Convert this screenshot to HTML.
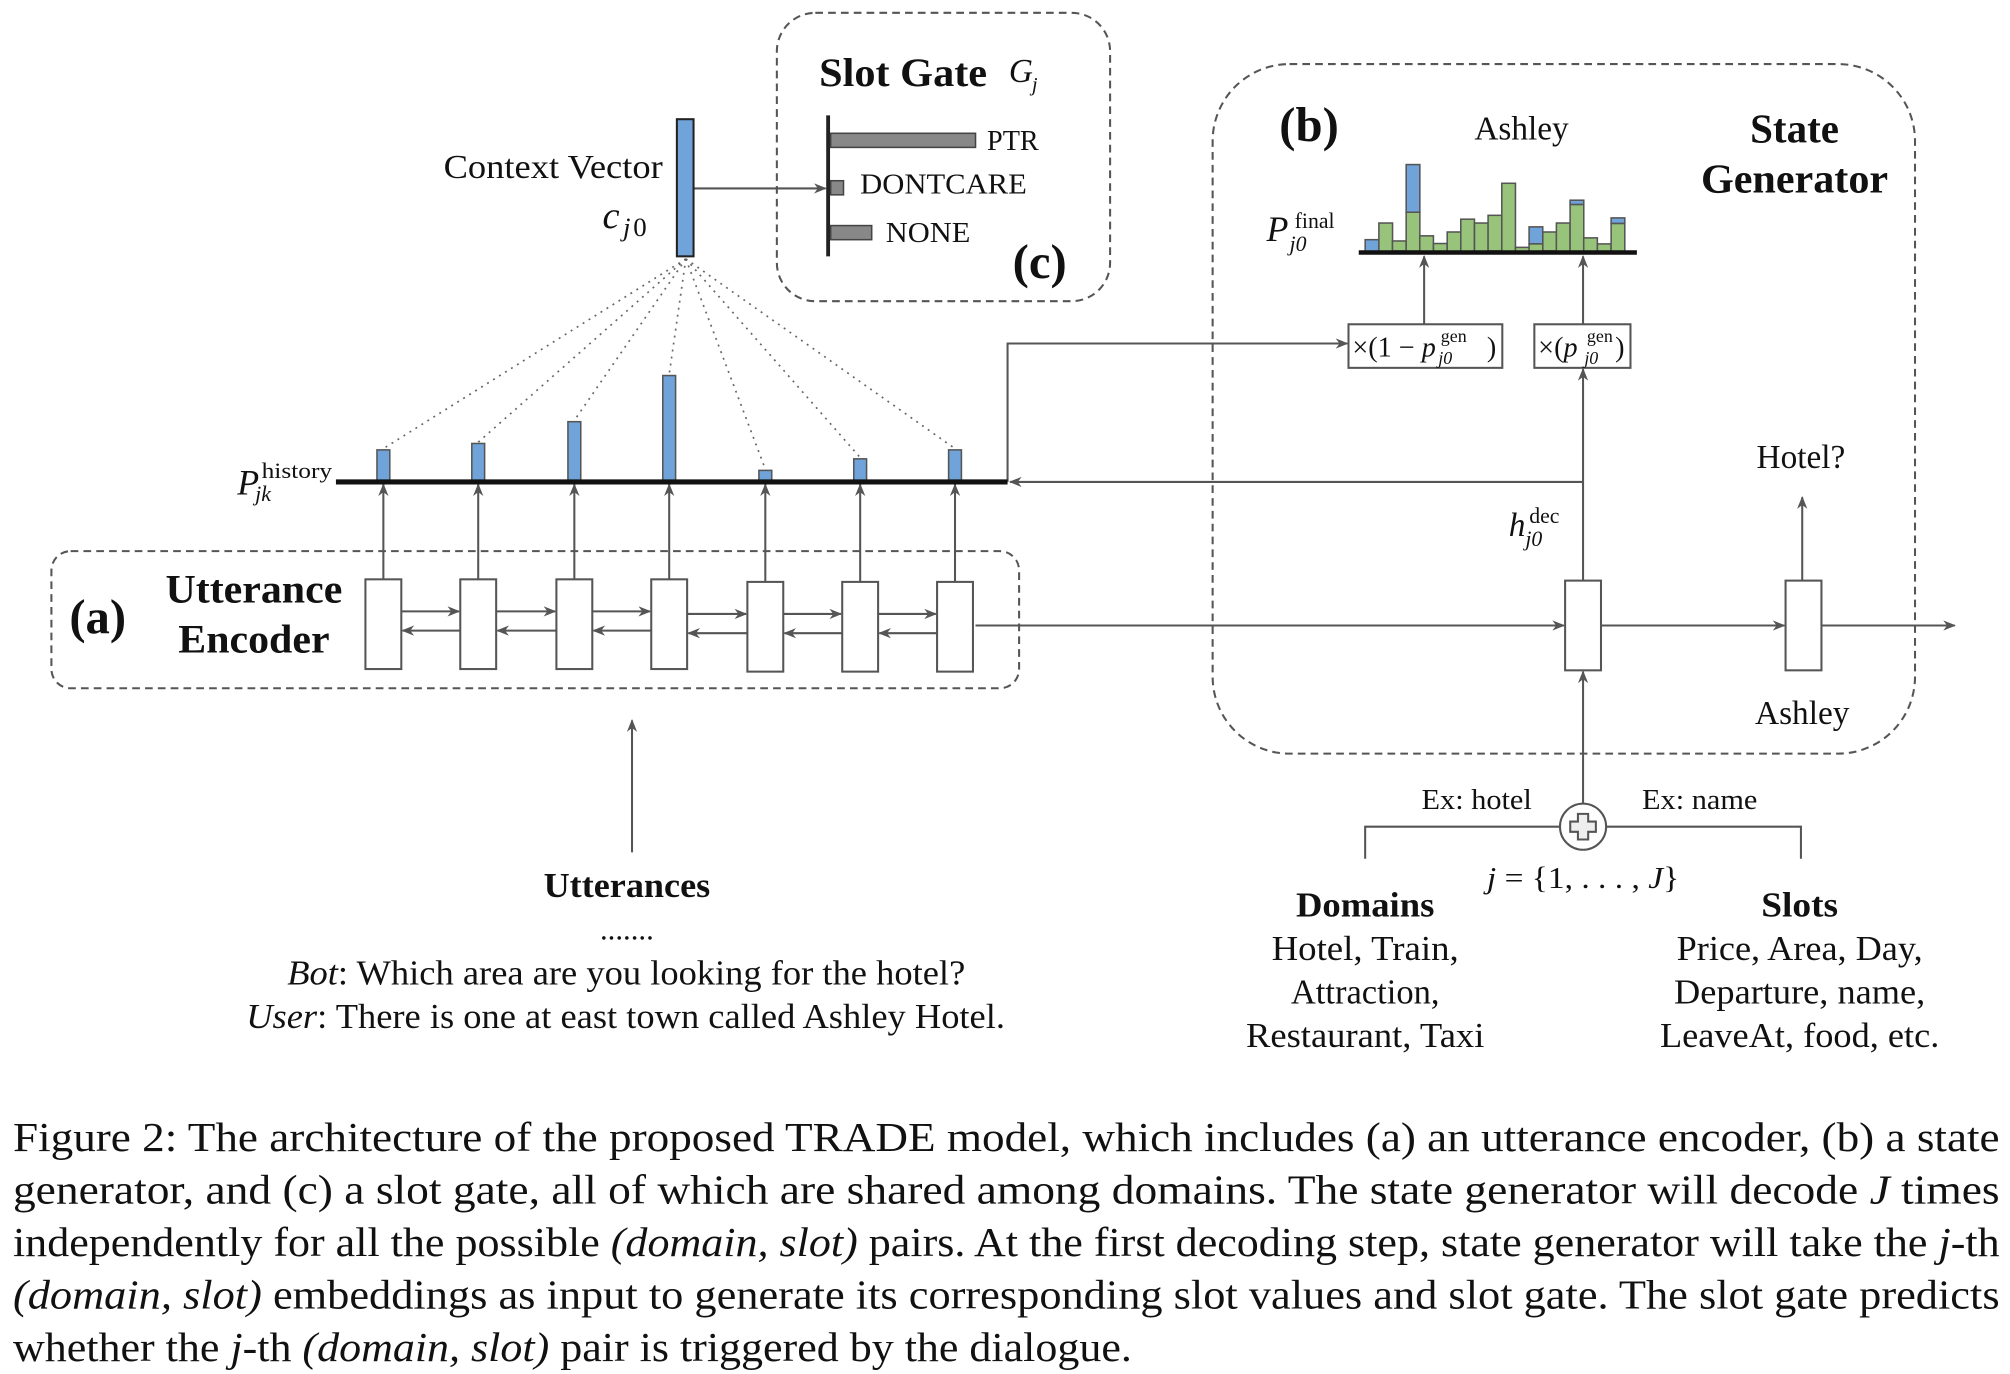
<!DOCTYPE html>
<html><head><meta charset="utf-8"><style>
html,body{margin:0;padding:0;background:#fff;}
svg{display:block;}
text{font-family:"Liberation Serif",serif;fill:#111;}
</style></head><body>
<svg width="2010" height="1374" viewBox="0 0 1568 1072" xmlns="http://www.w3.org/2000/svg">
<defs>
<marker id="ah" markerWidth="10" markerHeight="8" refX="9" refY="4" orient="auto" markerUnits="userSpaceOnUse">
<path d="M0,0 L10,4 L0,8 L3,4 z" fill="#555"/>
</marker>
</defs>
<g fill="none" stroke="#555" stroke-width="1.6" stroke-dasharray="6,4">
<rect x="40" y="430" width="755" height="107" rx="15"/>
<rect x="606" y="10" width="260" height="225" rx="30"/>
<rect x="946" y="50" width="548" height="538" rx="60"/>
</g>

<g fill="#fff" stroke="#555" stroke-width="1.6">
<rect x="285" y="452" width="28" height="70"/>
<rect x="359" y="452" width="28" height="70"/>
<rect x="434" y="452" width="28" height="70"/>
<rect x="508" y="452" width="28" height="70"/>
<rect x="583" y="454" width="28" height="70"/>
<rect x="657" y="454" width="28" height="70"/>
<rect x="731" y="454" width="28" height="70"/>
<rect x="1221" y="453" width="28" height="70"/>
<rect x="1393" y="453" width="28" height="70"/>
</g>
<g stroke="#555" stroke-width="1.6" marker-end="url(#ah)">
<line x1="313" y1="477" x2="358" y2="477"/>
<line x1="387" y1="477" x2="433" y2="477"/>
<line x1="462" y1="477" x2="507" y2="477"/>
<line x1="536" y1="479" x2="582" y2="479"/>
<line x1="611" y1="479" x2="656" y2="479"/>
<line x1="685" y1="479" x2="730" y2="479"/>
<line x1="359" y1="492" x2="314" y2="492"/>
<line x1="434" y1="492" x2="388" y2="492"/>
<line x1="508" y1="492" x2="463" y2="492"/>
<line x1="583" y1="494" x2="537" y2="494"/>
<line x1="657" y1="494" x2="612" y2="494"/>
<line x1="731" y1="494" x2="686" y2="494"/>
<line x1="299" y1="452" x2="299" y2="378"/>
<line x1="373" y1="452" x2="373" y2="378"/>
<line x1="448" y1="452" x2="448" y2="378"/>
<line x1="522" y1="452" x2="522" y2="378"/>
<line x1="597" y1="454" x2="597" y2="378"/>
<line x1="671" y1="454" x2="671" y2="378"/>
<line x1="745" y1="454" x2="745" y2="378"/>
<line x1="493" y1="665" x2="493" y2="562"/>
<line x1="541" y1="147" x2="644" y2="147"/>
<line x1="761" y1="488" x2="1220" y2="488"/>
<line x1="1249" y1="488" x2="1392" y2="488"/>
<line x1="1421" y1="488" x2="1525" y2="488"/>
<line x1="1406" y1="453" x2="1406" y2="388"/>
<line x1="1235" y1="627" x2="1235" y2="524"/>
<line x1="1235" y1="453" x2="1235" y2="288"/>
<line x1="1111" y1="253" x2="1111" y2="200"/>
<line x1="1235" y1="253" x2="1235" y2="200"/>
<polyline points="786,376 786,268 1051,268" fill="none"/>
<line x1="1235" y1="376" x2="788" y2="376"/>
</g>

<g stroke="#666" stroke-width="1.3" stroke-dasharray="1.5,4">
<line x1="535" y1="202" x2="299" y2="350"/>
<line x1="535" y1="202" x2="373" y2="345"/>
<line x1="535" y1="202" x2="448" y2="328"/>
<line x1="535" y1="202" x2="522" y2="292"/>
<line x1="535" y1="202" x2="597" y2="366"/>
<line x1="535" y1="202" x2="671" y2="357"/>
<line x1="535" y1="202" x2="745" y2="350"/>
</g>

<g fill="#6fa3d9" stroke="#555" stroke-width="1.2">
<rect x="294" y="351" width="10" height="24"/>
<rect x="368" y="346" width="10" height="29"/>
<rect x="443" y="329" width="10" height="46"/>
<rect x="517" y="293" width="10" height="82"/>
<rect x="592" y="367" width="10" height="8"/>
<rect x="666" y="358" width="10" height="17"/>
<rect x="740" y="351" width="10" height="24"/>
</g>
<line x1="262" y1="376" x2="786" y2="376" stroke="#111" stroke-width="4"/>

<rect x="528" y="93" width="13" height="107" fill="#6fa3d9" stroke="#222" stroke-width="1.6"/>

<line x1="646" y1="90" x2="646" y2="200" stroke="#222" stroke-width="3"/>
<g fill="#888" stroke="#444" stroke-width="1.2">
<rect x="648" y="104" width="113" height="11"/>
<rect x="648" y="141" width="10" height="11"/>
<rect x="648" y="176" width="32" height="11"/>
</g>

<g stroke="#555" stroke-width="1.2">
<rect x="1065.0" y="187" width="10.66" height="9.1" fill="#6fa3d9"/>
<rect x="1075.7" y="174" width="10.66" height="22.1" fill="#97c47a"/>
<rect x="1086.3" y="188" width="10.66" height="7.8" fill="#97c47a"/>
<rect x="1097.0" y="128.4" width="10.66" height="37.2" fill="#6fa3d9"/>
<rect x="1097.0" y="165.6" width="10.66" height="30.4" fill="#97c47a"/>
<rect x="1107.6" y="184" width="10.66" height="12.2" fill="#97c47a"/>
<rect x="1118.3" y="190" width="10.66" height="6" fill="#97c47a"/>
<rect x="1129.0" y="181" width="10.66" height="15.1" fill="#97c47a"/>
<rect x="1139.6" y="171" width="10.66" height="25.2" fill="#97c47a"/>
<rect x="1150.3" y="174" width="10.66" height="22.1" fill="#97c47a"/>
<rect x="1160.9" y="168" width="10.66" height="27.8" fill="#97c47a"/>
<rect x="1171.6" y="143" width="10.66" height="53.3" fill="#97c47a"/>
<rect x="1182.3" y="193" width="10.66" height="3.1" fill="#97c47a"/>
<rect x="1192.9" y="177" width="10.66" height="13.3" fill="#6fa3d9"/>
<rect x="1192.9" y="190.3" width="10.66" height="5.7" fill="#97c47a"/>
<rect x="1203.6" y="181" width="10.66" height="14.8" fill="#97c47a"/>
<rect x="1214.2" y="174" width="10.66" height="22.1" fill="#97c47a"/>
<rect x="1224.9" y="156.2" width="10.66" height="3.4" fill="#6fa3d9"/>
<rect x="1224.9" y="159.6" width="10.66" height="36.4" fill="#97c47a"/>
<rect x="1235.5" y="185.6" width="10.66" height="10.4" fill="#97c47a"/>
<rect x="1246.2" y="190.3" width="10.66" height="5.7" fill="#97c47a"/>
<rect x="1256.9" y="170" width="10.66" height="4.4" fill="#6fa3d9"/>
<rect x="1256.9" y="174.4" width="10.66" height="21.6" fill="#97c47a"/>
</g>
<line x1="1060" y1="197" x2="1277" y2="197" stroke="#111" stroke-width="3.5"/>

<g fill="#fff" stroke="#555" stroke-width="1.6">
<rect x="1052" y="253" width="120" height="34"/>
<rect x="1197" y="253" width="75" height="34"/>
</g>
<text x="1055" y="278" font-size="22">×(1 − <tspan font-style="italic">p</tspan></text>
<text x="1124" y="267" font-size="14">gen</text>
<text x="1122" y="284" font-size="14" font-style="italic">j0</text>
<text x="1160" y="278" font-size="22">)</text>
<text x="1200" y="278" font-size="22">×(<tspan font-style="italic">p</tspan></text>
<text x="1238" y="267" font-size="14">gen</text>
<text x="1236" y="284" font-size="14" font-style="italic">j0</text>
<text x="1260" y="278" font-size="22">)</text>

<g stroke="#555" stroke-width="1.6" fill="none">
<polyline points="1065,670 1065,645 1217,645"/>
<polyline points="1405,670 1405,645 1253,645"/>
<circle cx="1235" cy="645" r="18" fill="#fff"/>
<path d="M1231,635 h8 v6 h6 v8 h-6 v6 h-8 v-6 h-6 v-8 h6 z" fill="#eee"/>
</g>

<text x="346" y="139" font-size="26" textLength="171" lengthAdjust="spacingAndGlyphs">Context Vector</text>
<text x="470" y="178" font-size="30" font-style="italic">c</text><text x="486" y="184" font-size="21" font-style="italic">j</text><text x="494" y="184" font-size="21">0</text>
<text x="639" y="67" font-size="31" font-weight="bold" textLength="131" lengthAdjust="spacingAndGlyphs">Slot Gate</text>
<text x="787" y="64" font-size="26" font-style="italic">G</text><text x="805" y="71" font-size="16" font-style="italic">j</text>
<text x="770" y="117" font-size="22">PTR</text>
<text x="671" y="151" font-size="22" textLength="130" lengthAdjust="spacingAndGlyphs">DONTCARE</text>
<text x="691" y="189" font-size="22" textLength="66" lengthAdjust="spacingAndGlyphs">NONE</text>
<text x="790" y="217" font-size="38" font-weight="bold">(c)</text>
<text x="998" y="110" font-size="38" font-weight="bold">(b)</text>
<text x="1187" y="109" font-size="26" text-anchor="middle">Ashley</text>
<text x="1400" y="111" font-size="32" font-weight="bold" text-anchor="middle">State</text>
<text x="1400" y="150" font-size="32" font-weight="bold" text-anchor="middle" textLength="146" lengthAdjust="spacingAndGlyphs">Generator</text>
<text x="988" y="188" font-size="28" font-style="italic">P</text>
<text x="1010" y="178" font-size="17">final</text>
<text x="1006" y="196" font-size="17" font-style="italic">j0</text>
<text x="185" y="386" font-size="28" font-style="italic">P</text>
<text x="204" y="373" font-size="17" textLength="55" lengthAdjust="spacingAndGlyphs">history</text>
<text x="199" y="391" font-size="17" font-style="italic">jk</text>
<text x="54" y="494" font-size="38" font-weight="bold">(a)</text>
<text x="198" y="470" font-size="31" font-weight="bold" text-anchor="middle" textLength="138" lengthAdjust="spacingAndGlyphs">Utterance</text>
<text x="198" y="509" font-size="31" font-weight="bold" text-anchor="middle" textLength="118" lengthAdjust="spacingAndGlyphs">Encoder</text>
<text x="1405" y="365" font-size="26" text-anchor="middle">Hotel?</text>
<text x="1406" y="565" font-size="26" text-anchor="middle">Ashley</text>
<text x="1177" y="418" font-size="26" font-style="italic">h</text>
<text x="1193" y="408" font-size="17">dec</text>
<text x="1190" y="426" font-size="17" font-style="italic">j0</text>
<text x="1152" y="631" font-size="22" text-anchor="middle" textLength="86" lengthAdjust="spacingAndGlyphs">Ex: hotel</text>
<text x="1326" y="631" font-size="22" text-anchor="middle" textLength="90" lengthAdjust="spacingAndGlyphs">Ex: name</text>
<text x="1235" y="693" font-size="24" text-anchor="middle" textLength="150" lengthAdjust="spacingAndGlyphs"><tspan font-style="italic">j</tspan> = {1, . . . , <tspan font-style="italic">J</tspan>}</text>
<text x="1065" y="715" font-size="27" font-weight="bold" text-anchor="middle" textLength="108" lengthAdjust="spacingAndGlyphs">Domains</text>
<text x="1065" y="749" font-size="27" text-anchor="middle" textLength="146" lengthAdjust="spacingAndGlyphs">Hotel, Train,</text>
<text x="1065" y="783" font-size="27" text-anchor="middle" textLength="116" lengthAdjust="spacingAndGlyphs">Attraction,</text>
<text x="1065" y="817" font-size="27" text-anchor="middle" textLength="186" lengthAdjust="spacingAndGlyphs">Restaurant, Taxi</text>
<text x="1404" y="715" font-size="27" font-weight="bold" text-anchor="middle" textLength="60" lengthAdjust="spacingAndGlyphs">Slots</text>
<text x="1404" y="749" font-size="27" text-anchor="middle" textLength="192" lengthAdjust="spacingAndGlyphs">Price, Area, Day,</text>
<text x="1404" y="783" font-size="27" text-anchor="middle" textLength="196" lengthAdjust="spacingAndGlyphs">Departure, name,</text>
<text x="1404" y="817" font-size="27" text-anchor="middle" textLength="218" lengthAdjust="spacingAndGlyphs">LeaveAt, food, etc.</text>
<text x="489" y="700" font-size="27" font-weight="bold" text-anchor="middle" textLength="130" lengthAdjust="spacingAndGlyphs">Utterances</text>
<text x="489" y="733" font-size="24" text-anchor="middle">.......</text>
<text x="224" y="768" font-size="27" textLength="529" lengthAdjust="spacingAndGlyphs"><tspan font-style="italic">Bot</tspan>: Which area are you looking for the hotel?</text>
<text x="192" y="802" font-size="27" textLength="592" lengthAdjust="spacingAndGlyphs"><tspan font-style="italic">User</tspan>: There is one at east town called Ashley Hotel.</text>

<g font-size="32">
<text x="10" y="898" textLength="1550" lengthAdjust="spacingAndGlyphs">Figure 2: The architecture of the proposed TRADE model, which includes (a) an utterance encoder, (b) a state</text>
<text x="10" y="939" textLength="1550" lengthAdjust="spacingAndGlyphs">generator, and (c) a slot gate, all of which are shared among domains. The state generator will decode <tspan font-style="italic">J</tspan> times</text>
<text x="10" y="980" textLength="1550" lengthAdjust="spacingAndGlyphs">independently for all the possible <tspan font-style="italic">(domain, slot)</tspan> pairs. At the first decoding step, state generator will take the <tspan font-style="italic">j</tspan>-th</text>
<text x="10" y="1021" textLength="1550" lengthAdjust="spacingAndGlyphs"><tspan font-style="italic">(domain, slot)</tspan> embeddings as input to generate its corresponding slot values and slot gate. The slot gate predicts</text>
<text x="10" y="1062" textLength="873" lengthAdjust="spacingAndGlyphs">whether the <tspan font-style="italic">j</tspan>-th <tspan font-style="italic">(domain, slot)</tspan> pair is triggered by the dialogue.</text>
</g>
</svg>
</body></html>
